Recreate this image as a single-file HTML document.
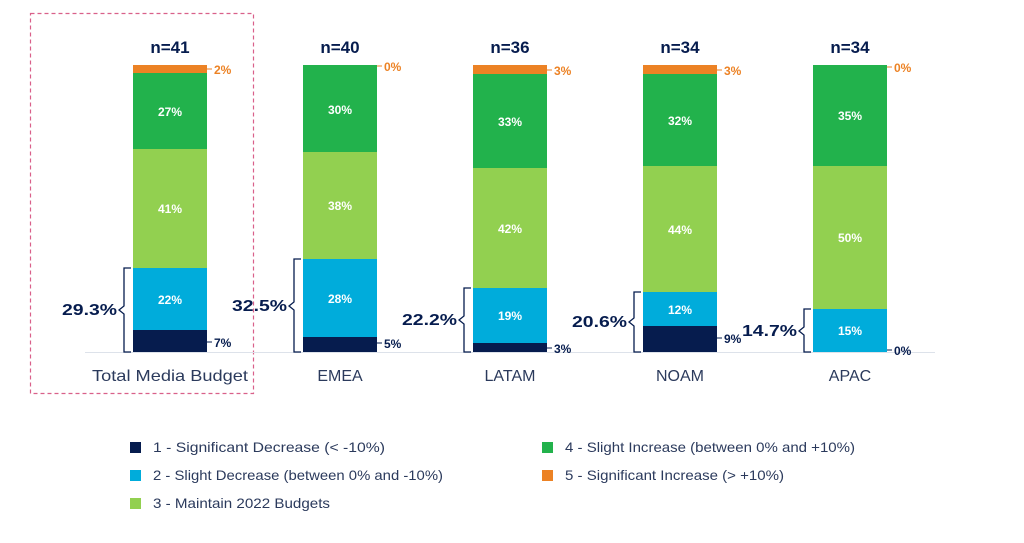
<!DOCTYPE html>
<html><head><meta charset="utf-8"><style>
body{margin:0;background:#fff;width:1024px;height:538px;overflow:hidden;font-family:"Liberation Sans",sans-serif}
</style></head><body>
<svg width="1024" height="538" xmlns="http://www.w3.org/2000/svg" font-family="Liberation Sans, sans-serif">
<rect x="30.5" y="13.5" width="223" height="380" fill="none" stroke="#d9608a" stroke-width="1.2" stroke-dasharray="4,3"/>
<line x1="85" y1="352.5" x2="935" y2="352.5" stroke="#dde2ea" stroke-width="1"/>
<g id="bars">
<rect x="133" y="65" width="74" height="8" fill="#ec8224"/>
<rect x="133" y="73" width="74" height="76" fill="#22b24c"/>
<rect x="133" y="149" width="74" height="119" fill="#92d050"/>
<rect x="133" y="268" width="74" height="62" fill="#00acdb"/>
<rect x="133" y="330" width="74" height="22" fill="#061c4e"/>
<rect x="303" y="65" width="74" height="87" fill="#22b24c"/>
<rect x="303" y="152" width="74" height="107" fill="#92d050"/>
<rect x="303" y="259" width="74" height="78" fill="#00acdb"/>
<rect x="303" y="337" width="74" height="15" fill="#061c4e"/>
<rect x="473" y="65" width="74" height="9" fill="#ec8224"/>
<rect x="473" y="74" width="74" height="94" fill="#22b24c"/>
<rect x="473" y="168" width="74" height="120" fill="#92d050"/>
<rect x="473" y="288" width="74" height="55" fill="#00acdb"/>
<rect x="473" y="343" width="74" height="9" fill="#061c4e"/>
<rect x="643" y="65" width="74" height="9" fill="#ec8224"/>
<rect x="643" y="74" width="74" height="92" fill="#22b24c"/>
<rect x="643" y="166" width="74" height="126" fill="#92d050"/>
<rect x="643" y="292" width="74" height="34" fill="#00acdb"/>
<rect x="643" y="326" width="74" height="26" fill="#061c4e"/>
<rect x="813" y="65" width="74" height="101" fill="#22b24c"/>
<rect x="813" y="166" width="74" height="143" fill="#92d050"/>
<rect x="813" y="309" width="74" height="43" fill="#00acdb"/>
</g>
<g fill="#fff" font-size="12" font-weight="bold" text-anchor="middle">
<text x="170" y="116">27%</text><text x="170" y="213">41%</text><text x="170" y="304">22%</text>
<text x="340" y="114">30%</text><text x="340" y="210">38%</text><text x="340" y="303">28%</text>
<text x="510" y="126">33%</text><text x="510" y="233">42%</text><text x="510" y="320">19%</text>
<text x="680" y="125">32%</text><text x="680" y="234">44%</text><text x="680" y="314">12%</text>
<text x="850" y="120">35%</text><text x="850" y="242">50%</text><text x="850" y="335">15%</text>
</g>
<g fill="#061c4e" font-size="17" font-weight="bold" text-anchor="middle">
<text x="170" y="53">n=41</text><text x="340" y="53">n=40</text><text x="510" y="53">n=36</text><text x="680" y="53">n=34</text><text x="850" y="53">n=34</text>
</g>
<g fill="#2b3a5c" font-size="16" text-anchor="middle">
<text x="170" y="381" textLength="156" lengthAdjust="spacingAndGlyphs">Total Media Budget</text><text x="340" y="381">EMEA</text><text x="510" y="381">LATAM</text><text x="680" y="381">NOAM</text><text x="850" y="381">APAC</text>
</g>
<g font-size="12" font-weight="bold">
<g fill="#ec8224">
<line x1="207" y1="69" x2="212" y2="69" stroke="#ec8224"/><text x="214" y="74">2%</text>
<line x1="377" y1="66" x2="382" y2="66" stroke="#ec8224"/><text x="384" y="71">0%</text>
<line x1="547" y1="70" x2="552" y2="70" stroke="#ec8224"/><text x="554" y="75">3%</text>
<line x1="717" y1="70" x2="722" y2="70" stroke="#ec8224"/><text x="724" y="75">3%</text>
<line x1="887" y1="67" x2="892" y2="67" stroke="#ec8224"/><text x="894" y="72">0%</text>
</g>
<g fill="#061c4e">
<line x1="207" y1="342" x2="212" y2="342" stroke="#061c4e"/><text x="214" y="347">7%</text>
<line x1="377" y1="343" x2="382" y2="343" stroke="#061c4e"/><text x="384" y="348">5%</text>
<line x1="547" y1="348" x2="552" y2="348" stroke="#061c4e"/><text x="554" y="353">3%</text>
<line x1="717" y1="338" x2="722" y2="338" stroke="#061c4e"/><text x="724" y="343">9%</text>
<line x1="887" y1="350" x2="892" y2="350" stroke="#061c4e"/><text x="894" y="355">0%</text>
</g>
</g>
<g fill="none" stroke="#061c4e" stroke-width="1.3">
<path d="M131,268 H124 V306 L119,310 L124,314 V352 H131"/>
<path d="M301,259 H294 V302 L289,306 L294,310 V352 H301"/>
<path d="M471,288 H464 V316 L459,320 L464,324 V352 H471"/>
<path d="M641,292 H634 V318 L629,322 L634,326 V352 H641"/>
<path d="M811,309 H804 V327 L799,331 L804,335 V352 H811"/>
</g>
<g fill="#061c4e" font-size="16" font-weight="bold" text-anchor="end">
<text x="117" y="315" textLength="55" lengthAdjust="spacingAndGlyphs">29.3%</text><text x="287" y="311" textLength="55" lengthAdjust="spacingAndGlyphs">32.5%</text><text x="457" y="325" textLength="55" lengthAdjust="spacingAndGlyphs">22.2%</text><text x="627" y="327" textLength="55" lengthAdjust="spacingAndGlyphs">20.6%</text><text x="797" y="336" textLength="55" lengthAdjust="spacingAndGlyphs">14.7%</text>
</g>
<g font-size="14" fill="#2b3a5c">
<rect x="130" y="442" width="11" height="11" fill="#061c4e"/><text x="153" y="452" textLength="232" lengthAdjust="spacingAndGlyphs">1 - Significant Decrease (&lt; -10%)</text>
<rect x="130" y="470" width="11" height="11" fill="#00acdb"/><text x="153" y="480" textLength="290" lengthAdjust="spacingAndGlyphs">2 - Slight Decrease (between 0% and -10%)</text>
<rect x="130" y="498" width="11" height="11" fill="#92d050"/><text x="153" y="508" textLength="177" lengthAdjust="spacingAndGlyphs">3 - Maintain 2022 Budgets</text>
<rect x="542" y="442" width="11" height="11" fill="#22b24c"/><text x="565" y="452" textLength="290" lengthAdjust="spacingAndGlyphs">4 - Slight Increase (between 0% and +10%)</text>
<rect x="542" y="470" width="11" height="11" fill="#ec8224"/><text x="565" y="480" textLength="219" lengthAdjust="spacingAndGlyphs">5 - Significant Increase (&gt; +10%)</text>
</g>
</svg>
</body></html>
